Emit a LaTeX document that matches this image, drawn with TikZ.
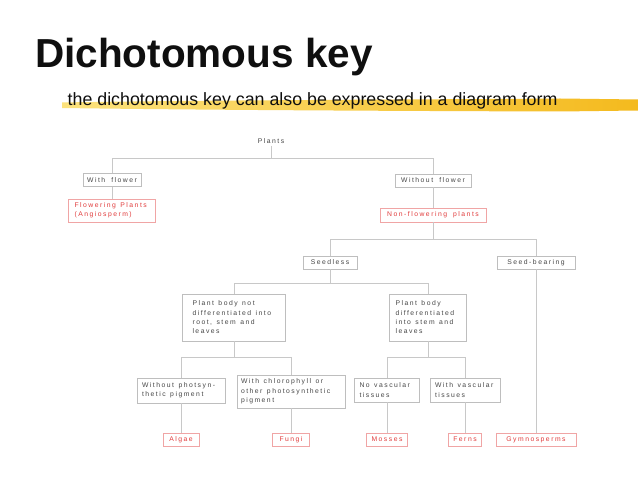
\documentclass[tikz,border=0pt]{standalone}
\usepackage{fontspec}
\setmainfont{Liberation Sans}
\newfontfamily\keyfont[LetterSpace=22,WordSpace=1.8]{Liberation Sans}
\definecolor{boxgray}{RGB}{190,190,190}
\definecolor{linegray}{RGB}{200,200,200}
\definecolor{txtgray}{RGB}{70,70,70}
\definecolor{redtxt}{RGB}{225,60,60}
\definecolor{redline}{RGB}{240,165,165}
\definecolor{brushA}{RGB}{252,226,125}
\definecolor{brushB}{RGB}{244,186,30}
\definecolor{inkblack}{RGB}{15,15,15}
\begin{document}
\begin{tikzpicture}[x=1pt,y=-1pt,
  kf/.style={font=\keyfont\fontsize{6.8}{9.3}\selectfont},
  box/.style={kf, draw=boxgray, line width=0.7pt, text=txtgray, inner sep=0pt, minimum height=13},
  redbox/.style={box, draw=redline, text=redtxt},
  mbox/.style={box, align=left, execute at begin node={\spaceskip=4.5pt plus 1pt\relax}},
  conn/.style={draw=linegray, line width=0.8pt}]
\useasboundingbox (0,0) rectangle (638,478);
\fill[white] (0,0) rectangle (638,478);

% title and subtitle
\node[anchor=base west, inner sep=0pt, text=inkblack, font=\fontsize{40.5}{48}\selectfont\bfseries] (title) at (35,67.3) {Dichotomous key};
\shade[left color=brushA, right color=brushB] (62,102.5) .. controls (200,100) and (450,99.5) .. (560,98.5) -- (638,99.5) -- (638,110.5) -- (560,111.5) .. controls (400,111) and (200,110) .. (62,108) -- cycle;
\node[anchor=base west, inner sep=0pt, text=inkblack, font=\fontsize{17.8}{20}\selectfont] (subtitle) at (67.5,105.5) {the dichotomous key can also be expressed in a diagram form};

% bus coordinates
\coordinate (busA) at (0,158);
\coordinate (busB) at (0,239);
\coordinate (busC) at (0,283);
\coordinate (busD) at (0,357);

% nodes
\node[kf, text=txtgray, inner sep=2pt] (plants) at (271,141) {Plants};
\node[box, minimum width=58] (wf) at (112,180) {With flower};
\node[redbox, align=left, execute at begin node={\spaceskip=4.5pt plus 1pt\relax}, text width=75pt, inner xsep=6pt, minimum height=23] (fp) at (112,210.5) {\mbox{Flowering Plants}\\\mbox{(Angiosperm)}};
\node[box, minimum width=76] (wof) at (433,180.5) {Without flower};
\node[redbox, minimum width=106, minimum height=14] (nfp) at (433,215) {Non-flowering plants};
\node[box, minimum width=54] (sl) at (330,262.5) {Seedless};
\node[box, minimum width=78] (sb) at (536,262.5) {Seed-bearing};
\node[mbox, text width=83pt, inner xsep=10pt, minimum height=47] (pbn) at (234,317.5) {\mbox{Plant body not}\\\mbox{differentiated into}\\\mbox{root, stem and}\\\mbox{leaves}};
\node[mbox, text width=65pt, inner xsep=6pt, minimum height=47] (pbd) at (428,317.5) {\mbox{Plant body}\\\mbox{differentiated}\\\mbox{into stem and}\\\mbox{leaves}};
\node[mbox, text width=78pt, inner xsep=5pt, minimum height=25] (wop) at (181,390.5) {\mbox{Without photsyn-}\\\mbox{thetic pigment}};
\node[mbox, text width=100pt, inner xsep=4pt, minimum height=33] (wcp) at (291,391.5) {\mbox{With chlorophyll or}\\\mbox{other photosynthetic}\\\mbox{pigment}};
\node[mbox, text width=55pt, inner xsep=5pt, minimum height=24] (nvt) at (387,390) {\mbox{No vascular}\\\mbox{tissues}};
\node[mbox, text width=60pt, inner xsep=5pt, minimum height=24] (wvt) at (465,390) {\mbox{With vascular}\\\mbox{tissues}};
\node[redbox, minimum width=36] (algae) at (181,439.5) {Algae};
\node[redbox, minimum width=37] (fungi) at (291,439.5) {Fungi};
\node[redbox, minimum width=41] (mosses) at (387,439.5) {Mosses};
\node[redbox, minimum width=33] (ferns) at (465,439.5) {Ferns};
\node[redbox, minimum width=80] (gym) at (536,439.5) {Gymnosperms};

% connectors
\draw[conn] (plants.south) -- (plants.south |- busA);
\draw[conn] (wf.north) -- (wf.north |- busA) -- (wof.north |- busA) -- (wof.north);
\draw[conn] (wf) -- (fp);
\draw[conn] (wof) -- (nfp);
\draw[conn] (nfp.south) -- (nfp.south |- busB);
\draw[conn] (sl.north) -- (sl.north |- busB) -- (sb.north |- busB) -- (sb.north);
\draw[conn] (sb) -- (gym);
\draw[conn] (sl.south) -- (sl.south |- busC);
\draw[conn] (pbn.north) -- (pbn.north |- busC) -- (pbd.north |- busC) -- (pbd.north);
\draw[conn] (pbn.south) -- (pbn.south |- busD);
\draw[conn] (wop.north) -- (wop.north |- busD) -- (wcp.north |- busD) -- (wcp.north);
\draw[conn] (pbd.south) -- (pbd.south |- busD);
\draw[conn] (nvt.north) -- (nvt.north |- busD) -- (wvt.north |- busD) -- (wvt.north);
\draw[conn] (wop) -- (algae);
\draw[conn] (wcp) -- (fungi);
\draw[conn] (nvt) -- (mosses);
\draw[conn] (wvt) -- (ferns);
\end{tikzpicture}
\end{document}
